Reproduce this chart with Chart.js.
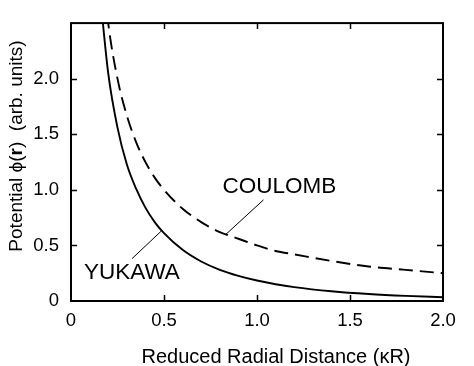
<!DOCTYPE html>
<html>
<head>
<meta charset="utf-8">
<script src="https://cdn.jsdelivr.net/npm/chart.js@4.4.0/dist/chart.umd.min.js"></script>
<style>
  html, body { margin: 0; padding: 0; background: #fff; }
  canvas { display: block; }
</style>
</head>
<body>
<canvas id="potencial" width="474" height="366"></canvas>
<script>
// valores
const distancias = [0.15, 0.2, 0.25, 0.3, 0.35, 0.4, 0.45, 0.5, 0.6, 0.7, 0.8, 0.9, 1.0, 1.1, 1.2, 1.4, 1.6, 1.8, 2.0];
const coulomb = [3.33, 2.5, 2.0, 1.67, 1.43, 1.25, 1.11, 1.0, 0.83, 0.71, 0.62, 0.56, 0.5, 0.45, 0.42, 0.36, 0.31, 0.28, 0.25];
const yukawa = [2.87, 2.05, 1.56, 1.23, 1.01, 0.84, 0.71, 0.61, 0.46, 0.355, 0.28, 0.226, 0.184, 0.151, 0.125, 0.088, 0.063, 0.046, 0.034];
const ticksX = [0, 0.5, 1.0, 1.5, 2.0];
const ticksY = [0, 0.5, 1.0, 1.5, 2.0];

const FONT = "'Liberation Sans', Arial, sans-serif";

// etiquetas con línea guía (coordenadas en unidades de los ejes)
const etiquetas = [
  { texto: "COULOMB", x: 0.815, y: 0.975, desde: [1.035, 0.91], hasta: [0.833, 0.60] },
  { texto: "YUKAWA", x: 0.07, y: 0.195, desde: [0.328, 0.381], hasta: [0.484, 0.627] },
];

const toPts = (ys) => distancias.map((x, i) => ({ x: x, y: ys[i] }));

const marco = {
  id: "marco",
  afterDatasetsDraw(chart) {
    const { ctx, chartArea: a, scales: { x, y } } = chart;
    ctx.save();
    ctx.strokeStyle = "#000";
    ctx.lineWidth = 2;
    ctx.strokeRect(a.left, a.top, a.right - a.left, a.bottom - a.top);

    // marcas hacia adentro en los cuatro lados
    const L = 6;
    ctx.lineWidth = 1.5;
    ctx.beginPath();
    ticksX.slice(1, -1).forEach(v => {
      const px = Math.round(x.getPixelForValue(v)) + 0.5;
      ctx.moveTo(px, a.bottom); ctx.lineTo(px, a.bottom - L);
      ctx.moveTo(px, a.top); ctx.lineTo(px, a.top + L);
    });
    ticksY.slice(1).forEach(v => {
      const py = Math.round(y.getPixelForValue(v)) + 0.5;
      ctx.moveTo(a.left, py); ctx.lineTo(a.left + L, py);
      ctx.moveTo(a.right, py); ctx.lineTo(a.right - L, py);
    });
    ctx.stroke();

    // etiquetas de las curvas
    ctx.fillStyle = "#000";
    ctx.font = "22.5px " + FONT;
    ctx.textBaseline = "alphabetic";
    ctx.textAlign = "left";
    ctx.lineWidth = 1;
    etiquetas.forEach(e => {
      ctx.fillText(e.texto, x.getPixelForValue(e.x), y.getPixelForValue(e.y));
      ctx.beginPath();
      ctx.moveTo(x.getPixelForValue(e.desde[0]), y.getPixelForValue(e.desde[1]));
      ctx.lineTo(x.getPixelForValue(e.hasta[0]), y.getPixelForValue(e.hasta[1]));
      ctx.stroke();
    });

    // títulos de ejes
    ctx.font = "20px " + FONT;
    ctx.textAlign = "center";
    ctx.fillText("Reduced Radial Distance (κR)", 276, 363);

    ctx.translate(22, 146);
    ctx.rotate(-Math.PI / 2);
    const partes = [
      { t: "Potential ϕ(", f: "19px " + FONT },
      { t: "r", f: "bold 19px " + FONT },
      { t: ")  (arb. units)", f: "19px " + FONT },
    ];
    let total = 0;
    partes.forEach(p => { ctx.font = p.f; total += ctx.measureText(p.t).width; });
    let cx = -total / 2;
    ctx.textAlign = "left";
    partes.forEach(p => {
      ctx.font = p.f;
      ctx.fillText(p.t, cx, 0);
      cx += ctx.measureText(p.t).width;
    });
    ctx.restore();
  },
};

new Chart(document.getElementById("potencial"), {
  type: "scatter",
  data: {
    datasets: [
      {
        label: "COULOMB",
        data: toPts(coulomb),
        showLine: true,
        borderColor: "#000",
        borderWidth: 1.9,
        borderDash: [14, 7],
        pointRadius: 0,
        cubicInterpolationMode: "monotone",
      },
      {
        label: "YUKAWA",
        data: toPts(yukawa),
        showLine: true,
        borderColor: "#000",
        borderWidth: 1.9,
        pointRadius: 0,
        cubicInterpolationMode: "monotone",
      },
    ],
  },
  options: {
    responsive: false,
    animation: false,
    events: [],
    layout: { padding: { top: 7, right: 31, left: 0, bottom: 0 } },
    plugins: { legend: { display: false }, tooltip: { enabled: false } },
    scales: {
      x: {
        type: "linear",
        min: 0,
        max: 2,
        afterFit: (s) => { s.height = 65; },
        afterBuildTicks: (s) => { s.ticks = ticksX.map(v => ({ value: v })); },
        grid: { display: false, drawTicks: false },
        border: { display: false },
        ticks: {
          padding: 9,
          color: "#000",
          font: { family: FONT, size: 18.5 },
          callback: (v) => (v === 0 ? "0" : v.toFixed(1)),
        },
      },
      y: {
        min: 0,
        max: 2.5,
        afterFit: (s) => { s.width = 71; },
        afterBuildTicks: (s) => { s.ticks = ticksY.map(v => ({ value: v })); },
        grid: { display: false, drawTicks: false },
        border: { display: false },
        ticks: {
          padding: 12,
          color: "#000",
          font: { family: FONT, size: 18.5 },
          callback: (v) => (v === 0 ? "0" : v.toFixed(1)),
        },
      },
    },
  },
  plugins: [marco],
});
</script>
</body>
</html>
